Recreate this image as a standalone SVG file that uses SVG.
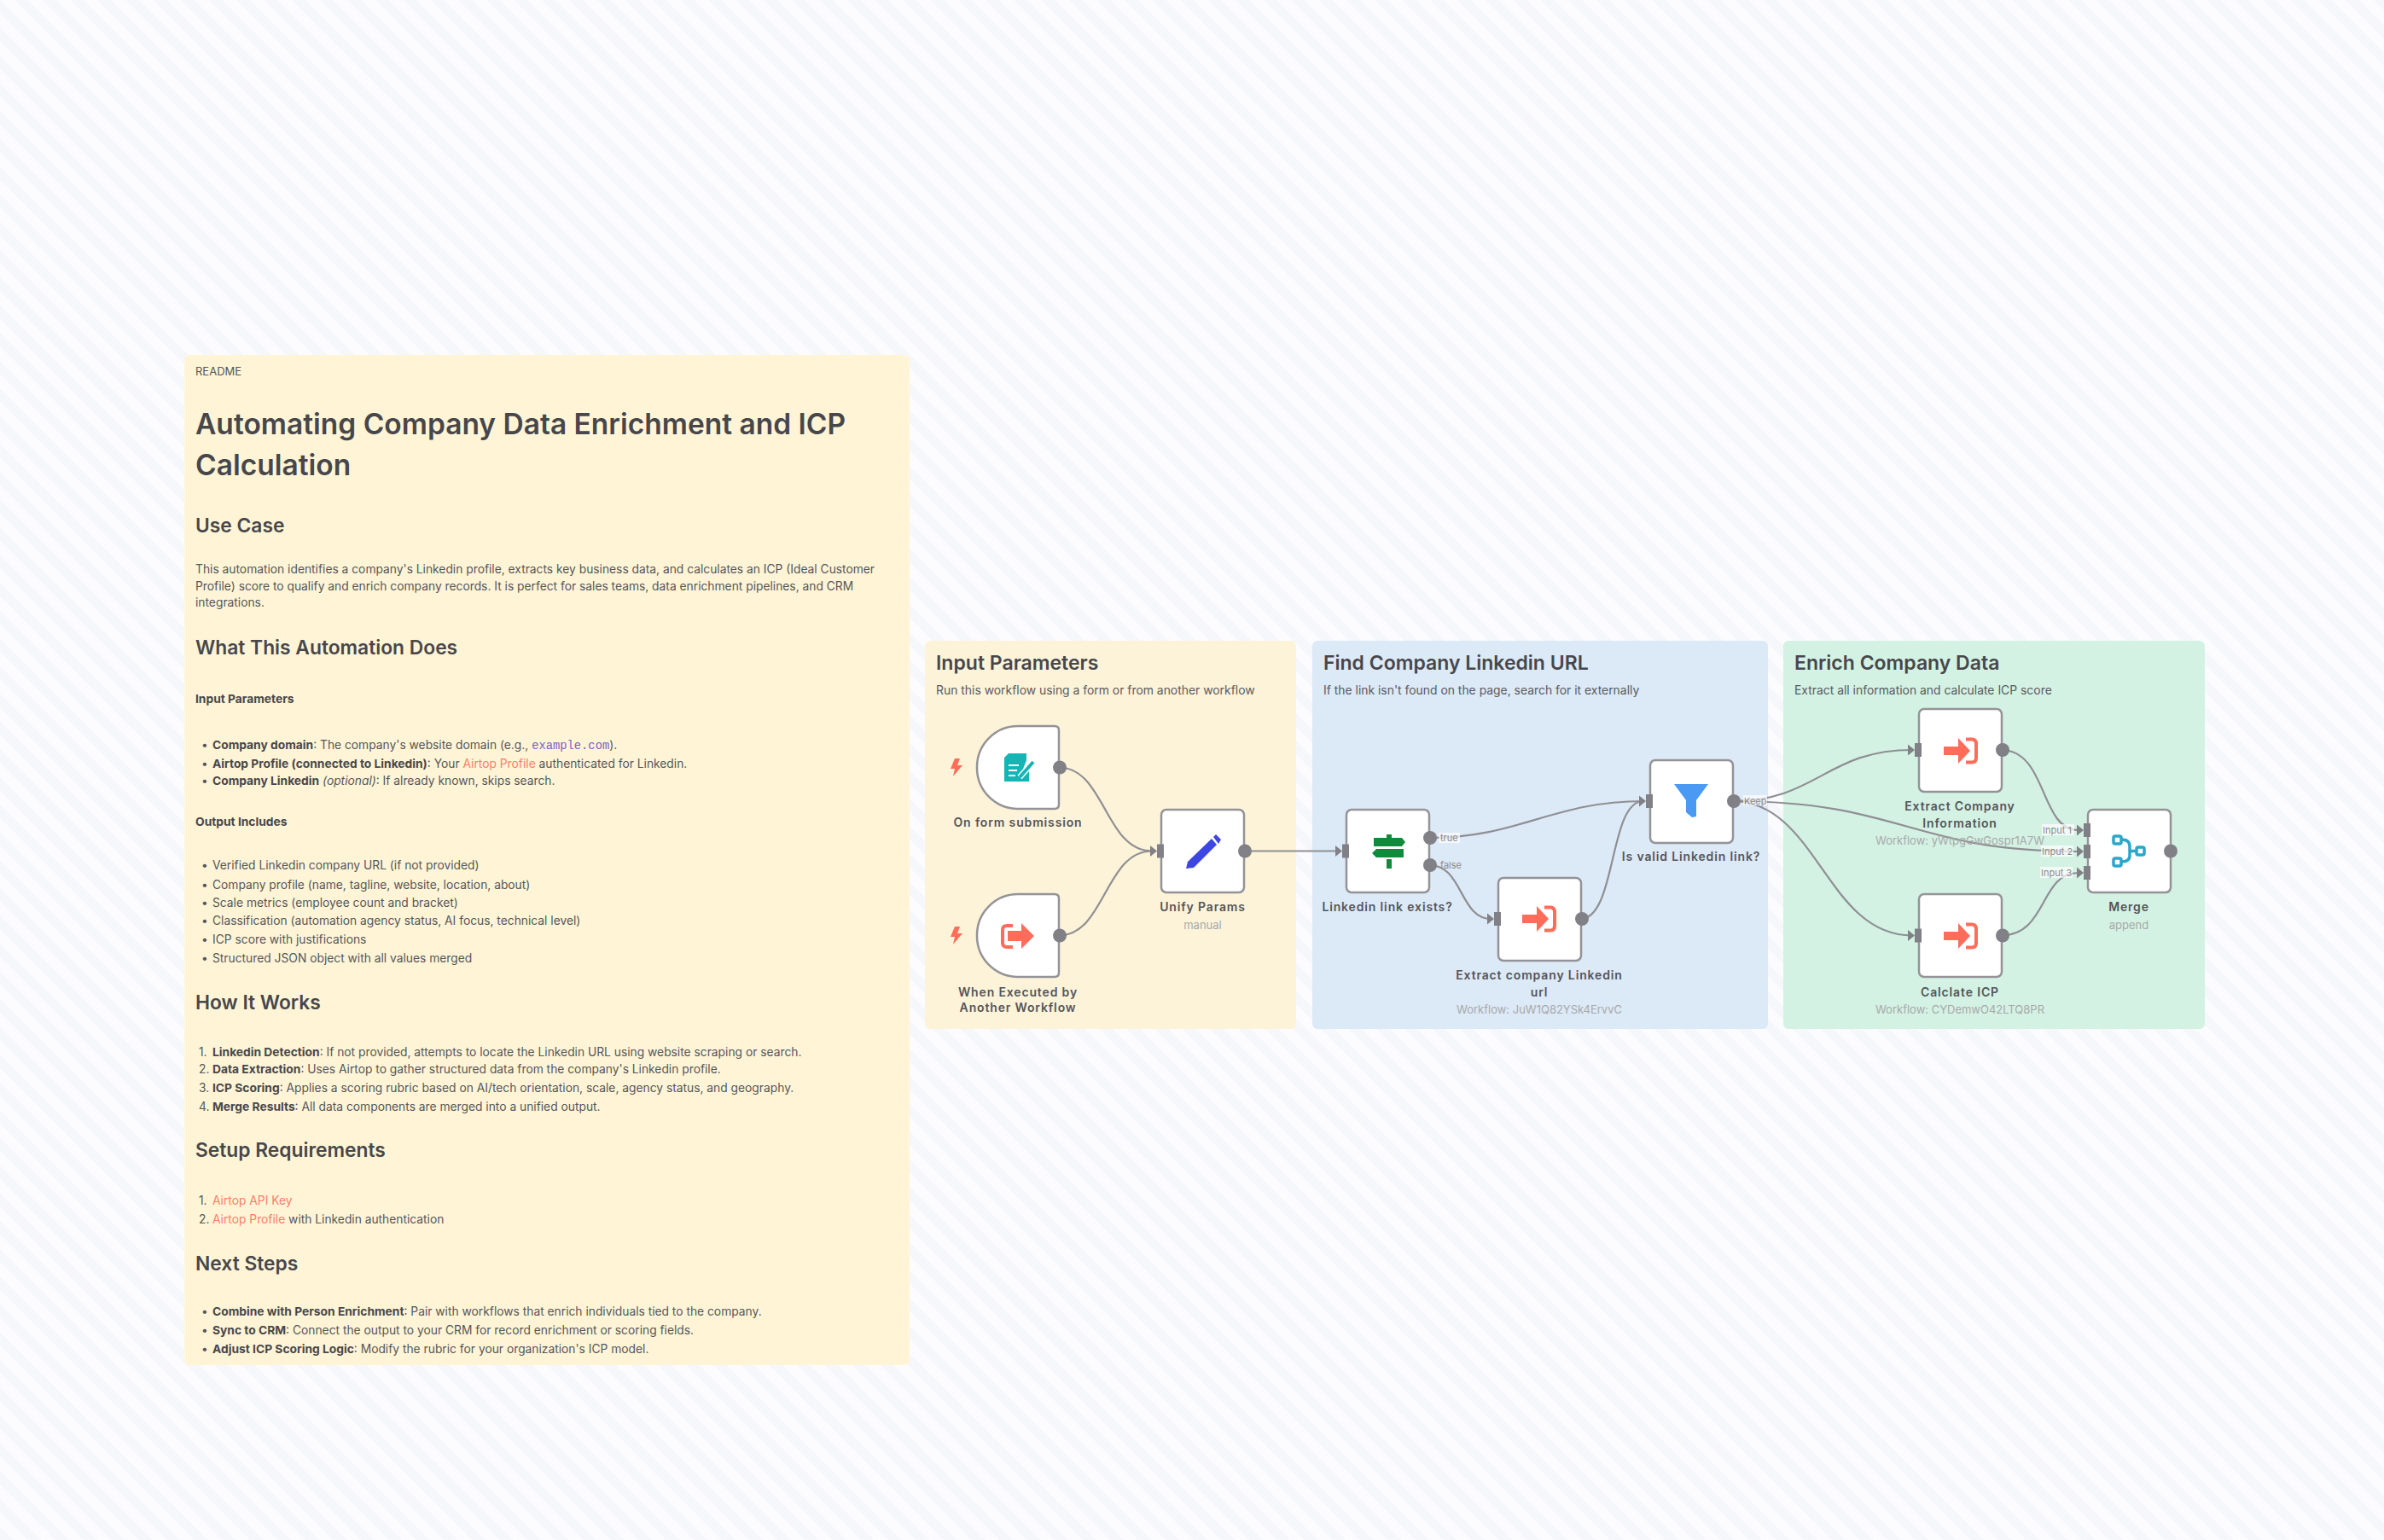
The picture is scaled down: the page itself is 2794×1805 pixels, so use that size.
<svg xmlns="http://www.w3.org/2000/svg" xmlns:xlink="http://www.w3.org/1999/xlink" width="2794" height="1805" viewBox="0 0 2794 1805">
<style>
text{font-family:Inter,"Liberation Sans",sans-serif;fill:#55555a}
.h1{font-size:33.500px;font-weight:600;fill:#47474b}
.h2{font-size:22.800px;font-weight:600;fill:#47474b}
.p{font-size:13.800px}
.b{font-weight:700;fill:#47474b}
.a{fill:#ff7d6c}
.c{font-family:"Liberation Mono",monospace;fill:#7a5fc8}
.gt{font-size:23px;font-weight:600;fill:#47474b}
.gs{font-size:13.900px;fill:#5a5a5f}
.nl{font-size:14px;font-weight:600;text-anchor:middle;fill:#55555a;letter-spacing:.85px}
.ns{font-size:13px;text-anchor:middle;fill:#a8a8aa}
.pl{font-size:11px;fill:#8a8a8e}
.node{fill:#fff;stroke:#949498;stroke-width:2.500}
.edge{fill:none;stroke:#8f8f93;stroke-width:2.200}
.dot{fill:#808086}
.lb{fill:#fff;opacity:.7}
</style>
<defs>
<pattern id="st" width="23" height="23" patternUnits="userSpaceOnUse" patternTransform="rotate(45)">
<rect width="23" height="23" fill="#fcfcff"/><rect width="23" height="11" fill="#f6f7fb"/>
</pattern>
<g id="in"><path d="M-8 -6.500 L0 0 L-8 6.500Z" fill="#808086"/><rect x="0" y="-8" width="8" height="16" fill="#808086"/></g>
<path id="bolt" d="M5 0 L0 12 L5 12 L3 21 L14 8 L8 8 L11 0Z" fill="#ff6d5a"/>
<g id="ex" fill="none"><path d="M0 10 H17 V0 L31 15 L17 30 V20 H0Z" fill="#ff6d5a"/><path d="M26 1.500 H33 Q38 1.500 38 7 V23 Q38 28.500 33 28.500 H26" stroke="#ff6d5a" stroke-width="4"/></g>
</defs>
<rect width="2794" height="1805" fill="url(#st)"/>

<g id="readme">
<rect x="216" y="416" width="850" height="1184" rx="6" fill="#fff5d6"/>
<text x="229" y="440" font-size="13">README</text>
<text class="h1" x="229" y="509">Automating Company Data Enrichment and ICP</text>
<text class="h1" x="229" y="557">Calculation</text>
<text class="h2" x="229" y="624">Use Case</text>
<text class="p" x="229" y="672">This automation identifies a company's Linkedin profile, extracts key business data, and calculates an ICP (Ideal Customer</text>
<text class="p" x="229" y="692">Profile) score to qualify and enrich company records. It is perfect for sales teams, data enrichment pipelines, and CRM</text>
<text class="p" x="229" y="711">integrations.</text>
<text class="h2" x="229" y="767">What This Automation Does</text>
<text class="p b" x="229" y="824">Input Parameters</text>
<text class="p" x="236" y="878">•</text><text class="p" x="249" y="878"><tspan class="b">Company domain</tspan>: The company's website domain (e.g., <tspan class="c">example.com</tspan>).</text>
<text class="p" x="236" y="900">•</text><text class="p" x="249" y="900"><tspan class="b">Airtop Profile (connected to Linkedin)</tspan>: Your <tspan class="a">Airtop Profile</tspan> authenticated for Linkedin.</text>
<text class="p" x="236" y="920">•</text><text class="p" x="249" y="920"><tspan class="b">Company Linkedin</tspan> <tspan font-style="italic">(optional)</tspan>: If already known, skips search.</text>
<text class="p b" x="229" y="968">Output Includes</text>
<text class="p" x="236" y="1019">•</text><text class="p" x="249" y="1019">Verified Linkedin company URL (if not provided)</text>
<text class="p" x="236" y="1042">•</text><text class="p" x="249" y="1042">Company profile (name, tagline, website, location, about)</text>
<text class="p" x="236" y="1063">•</text><text class="p" x="249" y="1063">Scale metrics (employee count and bracket)</text>
<text class="p" x="236" y="1084">•</text><text class="p" x="249" y="1084">Classification (automation agency status, AI focus, technical level)</text>
<text class="p" x="236" y="1106">•</text><text class="p" x="249" y="1106">ICP score with justifications</text>
<text class="p" x="236" y="1128">•</text><text class="p" x="249" y="1128">Structured JSON object with all values merged</text>
<text class="h2" x="229" y="1183">How It Works</text>
<text class="p" x="233" y="1238">1.</text><text class="p" x="249" y="1238"><tspan class="b">Linkedin Detection</tspan>: If not provided, attempts to locate the Linkedin URL using website scraping or search.</text>
<text class="p" x="233" y="1258">2.</text><text class="p" x="249" y="1258"><tspan class="b">Data Extraction</tspan>: Uses Airtop to gather structured data from the company's Linkedin profile.</text>
<text class="p" x="233" y="1280">3.</text><text class="p" x="249" y="1280"><tspan class="b">ICP Scoring</tspan>: Applies a scoring rubric based on AI/tech orientation, scale, agency status, and geography.</text>
<text class="p" x="233" y="1302">4.</text><text class="p" x="249" y="1302"><tspan class="b">Merge Results</tspan>: All data components are merged into a unified output.</text>
<text class="h2" x="229" y="1356">Setup Requirements</text>
<text class="p" x="233" y="1412">1.</text><text class="p a" x="249" y="1412">Airtop API Key</text>
<text class="p" x="233" y="1434">2.</text><text class="p" x="249" y="1434"><tspan class="a">Airtop Profile</tspan> with Linkedin authentication</text>
<text class="h2" x="229" y="1489">Next Steps</text>
<text class="p" x="236" y="1542">•</text><text class="p" x="249" y="1542"><tspan class="b">Combine with Person Enrichment</tspan>: Pair with workflows that enrich individuals tied to the company.</text>
<text class="p" x="236" y="1564">•</text><text class="p" x="249" y="1564"><tspan class="b">Sync to CRM</tspan>: Connect the output to your CRM for record enrichment or scoring fields.</text>
<text class="p" x="236" y="1586">•</text><text class="p" x="249" y="1586"><tspan class="b">Adjust ICP Scoring Logic</tspan>: Modify the rubric for your organization's ICP model.</text>
</g>

<g id="group-input">
<rect x="1084" y="751" width="435" height="455" rx="6" fill="#fdf3d8"/>
<text class="gt" x="1097" y="785">Input Parameters</text>
<text class="gs" x="1097" y="814">Run this workflow using a form or from another workflow</text>
</g>
<g id="group-find">
<rect x="1538" y="751" width="534" height="455" rx="6" fill="#dce9f7"/>
<text class="gt" x="1551" y="785">Find Company Linkedin URL</text>
<text class="gs" x="1551" y="814">If the link isn't found on the page, search for it externally</text>
</g>
<g id="group-enrich">
<rect x="2090" y="751" width="494" height="455" rx="6" fill="#d3f2e3"/>
<text class="gt" x="2103" y="785">Enrich Company Data</text>
<text class="gs" x="2103" y="814">Extract all information and calculate ICP score</text>
</g>

<g id="connectors">
<path class="edge" d="M1241 899.500C1295 899.500 1295 997.500 1350 997.500"/>
<path class="edge" d="M1241 1096.500C1295 1096.500 1295 997.500 1350 997.500"/>
<path class="edge" d="M1458 997.500H1570"/>
<path class="edge" d="M1675 982C1780 982 1820 939 1926 939"/>
<path class="edge" d="M1675 1014C1715 1014 1710 1077 1748 1077"/>
<path class="edge" d="M1852 1077C1895 1077 1885 939 1926 939"/>
<path class="edge" d="M2030 939C2130 939 2140 879 2241 879"/>
<path class="edge" d="M2030 939C2230 939 2240 998 2436 998"/>
<path class="edge" d="M2030 939C2130 939 2140 1096.500 2241 1096.500"/>
<path class="edge" d="M2345 879C2400 879 2390 973 2436 973"/>
<path class="edge" d="M2345 1096.500C2400 1096.500 2390 1023 2436 1023"/>
</g>

<g id="node-form">
<path class="node" d="M1241 856V943Q1241 948 1236 948H1193A48 48 0 0 1 1145 900V899A48 48 0 0 1 1193 851H1236Q1241 851 1241 856Z"/>
<use href="#bolt" x="1114" y="889"/>
<path d="M1182 883H1203V891L1196 909L1206 899V916H1177V888Z" fill="#16b5b5"/>
<path d="M1182 897H1194M1182 903H1192M1182 909H1190" stroke="#fff" stroke-width="2"/>
<path d="M1195 911L1211 893" stroke="#fff" stroke-width="7"/>
<path d="M1195 911L1211 893" stroke="#16b5b5" stroke-width="4"/>
<circle class="dot" cx="1242" cy="899.500" r="8"/>
<text class="nl" x="1193" y="969">On form submission</text>
</g>
<g id="node-exec">
<path class="node" d="M1241 1053V1140Q1241 1145 1236 1145H1193A48 48 0 0 1 1145 1097V1096A48 48 0 0 1 1193 1048H1236Q1241 1048 1241 1053Z"/>
<use href="#bolt" x="1114" y="1086"/>
<path d="M1187 1085H1180Q1175 1085 1175 1090V1105Q1175 1110 1180 1110H1187" fill="none" stroke="#ff6d5a" stroke-width="4"/>
<path d="M1181 1091H1197V1082L1212 1097L1197 1112V1103H1181Z" fill="#ff6d5a"/>
<circle class="dot" cx="1242" cy="1096.500" r="8"/>
<text class="nl" x="1193" y="1168">When Executed by</text>
<text class="nl" x="1193" y="1186">Another Workflow</text>
</g>
<g id="node-unify">
<rect class="node" x="1361" y="949" width="97" height="97" rx="6"/>
<path d="M1420 983L1392 1010L1390 1018L1399 1017L1426 990Z" fill="#3d46e3"/>
<path d="M1422 981L1425 978L1431 984L1428 989Z" fill="#3d46e3"/>
<use href="#in" x="1356" y="997.500"/>
<circle class="dot" cx="1459" cy="997.500" r="8"/>
<text class="nl" x="1409.500" y="1068">Unify Params</text>
<text class="ns" x="1409.500" y="1089">manual</text>
</g>
<g id="node-if">
<rect class="node" x="1578" y="949" width="97" height="97" rx="6"/>
<path d="M1610 982H1625V978H1631V982H1643L1647 987L1643 992H1610ZM1613 995H1645V1005H1613L1608 1000ZM1625 1007H1631V1018H1625Z" fill="#118a3c"/>
<use href="#in" x="1573" y="997.500"/>
<circle class="dot" cx="1676" cy="982" r="8"/>
<circle class="dot" cx="1676" cy="1014" r="8"/>
<rect class="lb" x="1686" y="976" width="25" height="12"/><text class="pl" x="1688" y="986">true</text>
<text class="pl" x="1688" y="1018">false</text>
<text class="nl" x="1626" y="1068">Linkedin link exists?</text>
</g>
<g id="node-extract-url">
<rect class="node" x="1756" y="1029" width="97" height="97" rx="6"/>
<use href="#ex" x="1784" y="1062"/>
<use href="#in" x="1751" y="1077"/>
<circle class="dot" cx="1854" cy="1077" r="8"/>
<text class="nl" x="1804" y="1148">Extract company Linkedin</text>
<text class="nl" x="1804" y="1168">url</text>
<text class="ns" x="1804" y="1188">Workflow: JuW1Q82YSk4ErvvC</text>
</g>
<g id="node-filter">
<rect class="node" x="1934" y="891" width="97" height="97" rx="6"/>
<path d="M1962 919H2002L1988 938V957L1983 958L1976 952V938Z" fill="#4a9af4"/>
<use href="#in" x="1929" y="939"/>
<circle class="dot" cx="2032" cy="939" r="8"/>
<rect class="lb" x="2043" y="932" width="28" height="12"/><text class="pl" x="2044" y="943">Keep</text>
<text class="nl" x="1982" y="1009">Is valid Linkedin link?</text>
</g>
<g id="node-extract-info">
<rect class="node" x="2249" y="831" width="97" height="97" rx="6"/>
<use href="#ex" x="2278" y="865"/>
<use href="#in" x="2244" y="879"/>
<circle class="dot" cx="2347" cy="879" r="8"/>
<text class="nl" x="2297" y="950">Extract Company</text>
<text class="nl" x="2297" y="970">Information</text>
<text class="ns" x="2297" y="990">Workflow: yWtpgGwGospr1A7W</text>
</g>
<g id="node-icp">
<rect class="node" x="2249" y="1048" width="97" height="97" rx="6"/>
<use href="#ex" x="2278" y="1082"/>
<use href="#in" x="2244" y="1096.500"/>
<circle class="dot" cx="2347" cy="1096.500" r="8"/>
<text class="nl" x="2297" y="1168">Calclate ICP</text>
<text class="ns" x="2297" y="1188">Workflow: CYDemwO42LTQ8PR</text>
</g>
<g id="node-merge">
<rect class="node" x="2447" y="949" width="97" height="97" rx="6"/>
<g fill="none" stroke="#2aa7c9" stroke-width="3.500"><rect x="2477" y="980" width="9" height="9" rx="2"/><rect x="2477" y="1006" width="9" height="9" rx="2"/><rect x="2504" y="993" width="9" height="9" rx="2"/><path d="M2486 984Q2496 984 2496 992V1003Q2496 1010 2486 1010M2496 997.500H2504"/></g>
<use href="#in" x="2442" y="973"/><use href="#in" x="2442" y="998"/><use href="#in" x="2442" y="1023"/>
<rect class="lb" x="2393" y="966" width="38" height="13"/><text class="pl" x="2394" y="977">Input 1</text>
<rect class="lb" x="2392" y="991" width="38" height="13"/><text class="pl" x="2393" y="1002">Input 2</text>
<rect class="lb" x="2391" y="1016" width="38" height="13"/><text class="pl" x="2392" y="1027">Input 3</text>
<circle class="dot" cx="2544" cy="997.500" r="8"/>
<text class="nl" x="2495" y="1068">Merge</text>
<text class="ns" x="2495" y="1089">append</text>
</g>
</svg>
